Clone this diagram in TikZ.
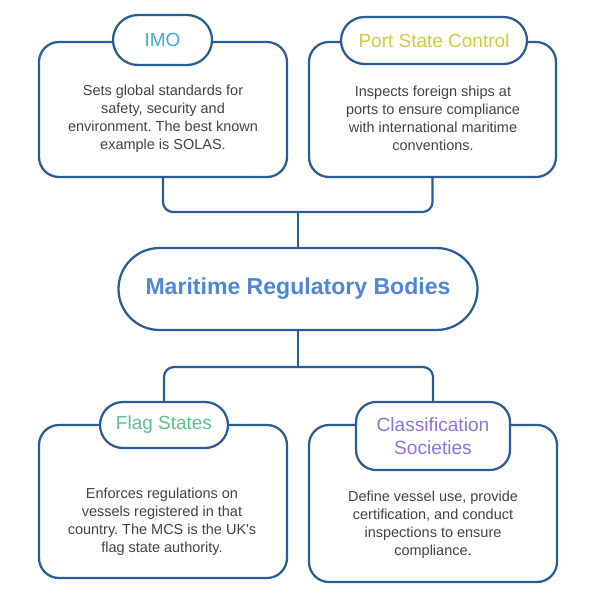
\documentclass[tikz,border=0pt]{standalone}
\usepackage{fontspec}
\setmainfont{Liberation Sans}
\usetikzlibrary{shapes.misc}
\frenchspacing
\definecolor{edge}{HTML}{2B5D94}
\definecolor{bodytxt}{HTML}{404448}
\definecolor{titleblue}{HTML}{4F86D9}
\definecolor{imoc}{HTML}{3FA9D4}
\definecolor{pscc}{HTML}{D8C83C}
\definecolor{flagc}{HTML}{5CC08F}
\definecolor{classc}{HTML}{8B74D9}
\tikzset{
  box/.style={draw=edge, line width=1.6pt, fill=white, rounded corners=0.5cm, inner sep=0pt},
  pill/.style={draw=edge, line width=1.6pt, fill=white, rounded rectangle, inner sep=0pt, font=\fontsize{13.5}{15}\selectfont},
  rpill/.style={draw=edge, line width=1.6pt, fill=white, rounded corners=0.5cm, inner sep=0pt, align=center, font=\fontsize{13.6}{16.5}\selectfont},
  body/.style={align=center, text=bodytxt, font=\fontsize{10.3}{12.8}\selectfont, inner sep=0pt},
  conn/.style={draw=edge, line width=1.6pt, rounded corners=0.25cm},
}
\begin{document}
\begin{tikzpicture}[x=0.025cm, y=-0.025cm]
\useasboundingbox[fill=white] (0,0) rectangle (600,600);
\coordinate (jt) at (298,212);
\coordinate (jb) at (298,367);
\node[box, minimum width=248*0.025cm, minimum height=135*0.025cm] (imobox) at (163,109.5) {};
\node[box, minimum width=247*0.025cm, minimum height=135*0.025cm] (pscbox) at (432.5,109.5) {};
\node[box, minimum width=248*0.025cm, minimum height=153*0.025cm] (flagbox) at (163,501.5) {};
\node[box, minimum width=248*0.025cm, minimum height=157*0.025cm] (classbox) at (433,503.5) {};
\draw[conn] (imobox.south) |- (jt) -| (pscbox.south);
\node[pill, minimum width=359*0.025cm, minimum height=82*0.025cm, text=titleblue, font=\fontsize{16.4}{19}\selectfont\bfseries] (main) at (298,289) {Maritime Regulatory Bodies};
\draw[conn] (jt) -- (main.north);
\node[pill, minimum width=99*0.025cm, minimum height=50*0.025cm, text=imoc] (imo) at (162.5,40) {IMO};
\node[pill, minimum width=186*0.025cm, minimum height=47*0.025cm, text=pscc] (psc) at (434,40.5) {Port State Control};
\node[pill, minimum width=128*0.025cm, minimum height=46*0.025cm, text=flagc] (flag) at (164,425) {Flag States};
\node[rpill, minimum width=154*0.025cm, minimum height=68*0.025cm, text=classc] (class) at (433,436) {Classification\\Societies};
\draw[conn] (main.south) -- (jb);
\draw[conn] (flag.north) |- (jb) -| (class.north);
\node[body] (imotxt) at (163,118.5) {Sets global standards for\\safety, security and\\environment. The best known\\example is SOLAS.};
\node[body] (psctxt) at (433,118.5) {Inspects foreign ships at\\ports to ensure compliance\\with international maritime\\conventions.};
\node[body] (flagtxt) at (162,521.5) {Enforces regulations on\\vessels registered in that\\country. The MCS is the UK\textquotesingle s\\flag state authority.};
\node[body] (classtxt) at (433,525) {Define vessel use, provide\\certification, and conduct\\inspections to ensure\\compliance.};
\end{tikzpicture}
\end{document}
